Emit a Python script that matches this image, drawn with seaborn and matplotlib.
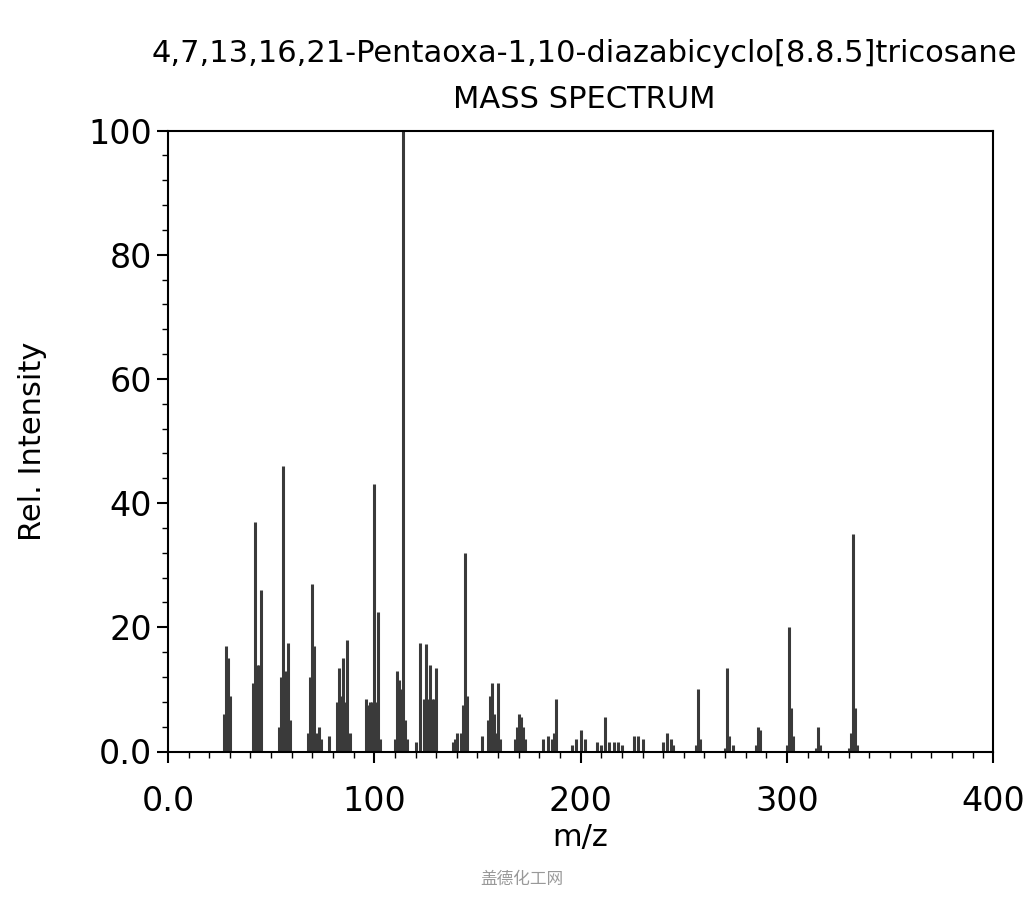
import matplotlib
matplotlib.use("Agg")
import matplotlib.pyplot as plt
import seaborn as sns
from matplotlib.ticker import MultipleLocator

# peaks (m/z, relative intensity)
mz = [27, 28, 29, 30, 41, 42, 43, 44, 45, 54, 55, 56, 57, 58, 59,
      68, 69, 70, 71, 72, 73, 74, 78, 82, 83, 84, 85, 86, 87, 88,
      96, 97, 98, 99, 100, 101, 102, 103, 110, 111, 112, 113, 114, 115, 116,
      120, 122, 124, 125, 126, 127, 128, 129, 130, 138, 139, 140, 142, 143, 144, 145,
      152, 155, 156, 157, 158, 159, 160, 161, 168, 169, 170, 171, 172, 173,
      182, 184, 186, 187, 188, 196, 198, 200, 202, 208, 210, 212, 214, 216, 218, 220,
      226, 228, 230, 240, 242, 244, 245, 256, 257, 258, 270, 271, 272, 274,
      285, 286, 287, 300, 301, 302, 303, 314, 315, 316, 330, 331, 332, 333, 334]
inten = [6, 17, 15, 9, 11, 37, 14, 14, 26, 4, 12, 46, 13, 17.5, 5,
         3, 12, 27, 17, 3, 4, 2, 2.5, 8, 13.5, 9, 15, 8, 18, 3,
         8.5, 7.5, 8, 8, 43, 8, 22.5, 2, 2, 13, 11.5, 10, 100, 5, 2,
         1.5, 17.5, 8.5, 17.3, 8.5, 14, 8.5, 8.5, 13.5, 1.5, 2, 3, 3, 7.5, 32, 9,
         2.5, 5, 9, 11, 6, 3, 11, 2, 2, 4, 6, 5.5, 4, 2,
         2, 2.5, 2, 3, 8.5, 1, 2, 3.5, 2, 1.5, 1, 5.5, 1.5, 1.5, 1.5, 1,
         2.5, 2.5, 2, 1.5, 3, 2, 1, 1, 10, 2, 0.5, 13.5, 2.5, 1,
         1, 4, 3.5, 1, 20, 7, 2.5, 0.5, 4, 1, 0.5, 3, 35, 7, 1]

sns.set_theme(style="white")
plt.rcParams['font.family'] = ['DejaVu Sans']
plt.rcParams['text.color'] = 'black'
plt.rcParams['axes.labelcolor'] = 'black'
plt.rcParams['xtick.color'] = 'black'
plt.rcParams['ytick.color'] = 'black'

fig, ax = plt.subplots(figsize=(10.24, 9.0), dpi=100)
ax.vlines(mz, 0, inten, color="#3a3a3a", linewidth=2.2)

ax.set_xlim(0, 400)
ax.set_ylim(0, 100)
ax.set_xticks([0, 100, 200, 300, 400])
ax.set_xticklabels(["0.0", "100", "200", "300", "400"])
ax.set_yticks([0, 20, 40, 60, 80, 100])
ax.set_yticklabels(["0.0", "20", "40", "60", "80", "100"])
ax.xaxis.set_minor_locator(MultipleLocator(10))
ax.yaxis.set_minor_locator(MultipleLocator(4))
ax.tick_params(axis="both", which="major", direction="out", length=8, width=1.5,
               labelsize=24, bottom=True, left=True)
ax.tick_params(axis="x", which="major", pad=16)
ax.tick_params(axis="both", which="minor", direction="out", length=4, width=1,
               bottom=True, left=True)
for s in ax.spines.values():
    s.set_color("black")
    s.set_linewidth(1.5)

ax.set_xlabel("m/z", fontsize=22, labelpad=4)
ax.set_ylabel("Rel. Intensity", fontsize=22, labelpad=30)
ax.set_title("4,7,13,16,21-Pentaoxa-1,10-diazabicyclo[8.8.5]tricosane\nMASS SPECTRUM",
             fontsize=22, pad=16, x=0.505, linespacing=1.75)
fig.text(0.51, 0.018, "盖德化工网", fontsize=12, color="#999999", ha="center",
         family=["Noto Sans CJK SC", "DejaVu Sans"])

plt.subplots_adjust(left=0.164, right=0.97, top=0.855, bottom=0.165)
fig.savefig("out.png", dpi=100)
